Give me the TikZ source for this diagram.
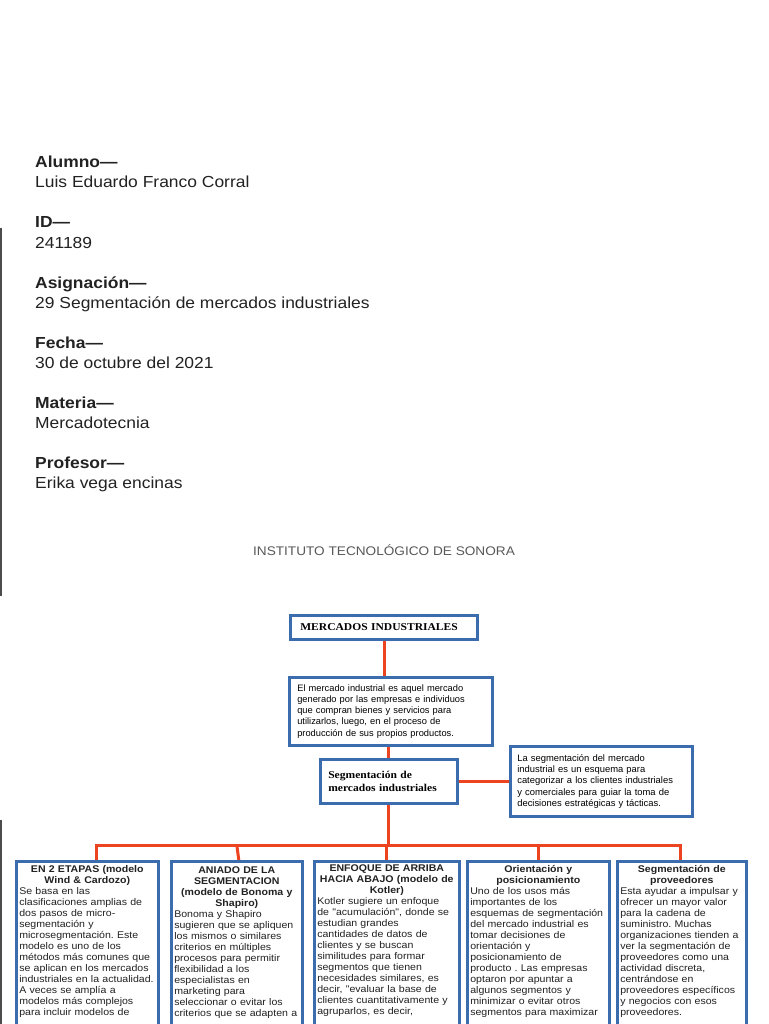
\documentclass[tikz,border=0pt]{standalone}
\usepackage{fontspec}
\setmainfont{Liberation Serif}
\setsansfont{Liberation Sans}
\newfontfamily\widesans{Liberation Sans}[FakeStretch=1.09]
\newfontfamily\wideserif{Liberation Serif}[FakeStretch=1.1]
\usepackage{tikz}
\usetikzlibrary{positioning,calc,shadows}
\definecolor{boxBlue}{HTML}{3B6DAE}
\definecolor{linkRed}{HTML}{EC4420}
\definecolor{inkGray}{HTML}{222222}
\frenchspacing

\tikzset{
  bluebox/.style={draw=boxBlue, line width=2.6pt, fill=white,
    drop shadow={shadow xshift=2pt, shadow yshift=-2pt, opacity=0.25}},
  link/.style={draw=linkRed, line width=3pt},
  headlabel/.style={anchor=base west, inner sep=0pt, font=\widesans\bfseries\fontsize{16}{19}\selectfont, inkGray},
  headvalue/.style={anchor=base west, inner sep=0pt, font=\widesans\fontsize{16}{19}\selectfont, inkGray},
  boxtext/.style={anchor=north, inner sep=0pt, font=\widesans\fontsize{9.7}{11}\selectfont, inkGray}
}

\begin{document}
\begin{tikzpicture}[x=1pt, y=-1pt]
  \useasboundingbox (0,0) rectangle (768,1024);
  \clip (0,0) rectangle (768,1024);
  \fill[white] (0,0) rectangle (768,1024);

  % page margin marks on the left edge
  \draw[black!70, line width=1.2pt] (1,228) -- (1,596);
  \draw[black!70, line width=1.2pt] (1,820) -- (1,1024);

  % student data
  \foreach \lab/\val [count=\i from 0] in {
      Alumno/Luis Eduardo Franco Corral,
      ID/241189,
      Asignación/29 Segmentación de mercados industriales,
      Fecha/30 de octubre del 2021,
      Materia/Mercadotecnia,
      Profesor/Erika vega encinas}{
    \node[headlabel] (lab\i) at (35,168+60*\i) {\lab—};
    \node[headvalue] (val\i) at (35,188+60*\i) {\val};
  }

  \node[font=\widesans\fontsize{12.5}{15}\selectfont, black!65] (instituto) at (384,550)
    {INSTITUTO TECNOLÓGICO DE SONORA};

  % upper chain of boxes
  \node[bluebox, anchor=north west, minimum width=187pt, minimum height=24pt,
        text width=167pt, inner xsep=10pt, align=left,
        font=\wideserif\bfseries\fontsize{10.5}{12}\selectfont] (mercados) at (289,614)
    {MERCADOS INDUSTRIALES};
  \node[bluebox, anchor=north west, minimum width=203pt, minimum height=68pt,
        text width=187pt, inner xsep=8pt, align=left,
        font=\sffamily\fontsize{9.3}{11.25}\selectfont] (definicion) at (288,676)
    {El mercado industrial es aquel mercado\\
     generado por las empresas e individuos\\
     que compran bienes y servicios para\\
     utilizarlos, luego, en el proceso de\\
     producción de sus propios productos.};
  \node[bluebox, anchor=north west, minimum width=137pt, minimum height=44pt,
        text width=121pt, inner xsep=8pt, align=left,
        font=\wideserif\bfseries\fontsize{10.5}{13}\selectfont] (segm) at (319,758)
    {Segmentación de\\ mercados industriales};
  \node[bluebox, anchor=north west, minimum width=182pt, minimum height=70pt,
        text width=168pt, inner xsep=7pt, align=left,
        font=\sffamily\fontsize{9.4}{11.25}\selectfont] (segmdef) at (509,745)
    {La segmentación del mercado\\
     industrial es un esquema para\\
     categorizar a los clientes industriales\\
     y comerciales para guiar la toma de\\
     decisiones estratégicas y tácticas.};

  % lower row of boxes (run past the page edge)
  \node[bluebox, anchor=north west, minimum width=142pt, minimum height=190pt] (etapas) at (15,860) {};
  \node[bluebox, anchor=north west, minimum width=131pt, minimum height=190pt] (aniado) at (170,860) {};
  \node[bluebox, anchor=north west, minimum width=145pt, minimum height=190pt] (enfoque) at (313,860) {};
  \node[bluebox, anchor=north west, minimum width=142pt, minimum height=190pt] (orient) at (466,860) {};
  \node[bluebox, anchor=north west, minimum width=129pt, minimum height=190pt] (provee) at (616,860) {};

  \node[boxtext, text width=136pt] (etapastxt) at ([yshift=-5pt]etapas.north)
    {{\centering\bfseries EN 2 ETAPAS (modelo\\ Wind \& Cardozo)\par}
     \raggedright Se basa en las\\ clasificaciones amplias de\\ dos pasos de micro-\\
     segmentación y\\ microsegmentación. Este\\ modelo es uno de los\\
     métodos más comunes que\\ se aplican en los mercados\\
     industriales en la actualidad.\\ A veces se amplía a\\
     modelos más complejos\\ para incluir modelos de\par};
  \node[boxtext, text width=125pt] (aniadotxt) at ([yshift=-7pt]aniado.north)
    {{\centering\bfseries ANIADO DE LA\\ SEGMENTACION\\ (modelo de Bonoma y\\ Shapiro)\par}
     \raggedright Bonoma y Shapiro\\ sugieren que se apliquen\\ los mismos o similares\\
     criterios en múltiples\\ procesos para permitir\\ flexibilidad a los\\
     especialistas en\\ marketing para\\ seleccionar o evitar los\\
     criterios que se adapten a\par};
  \node[boxtext, text width=139pt] (enfoquetxt) at ([yshift=-5pt]enfoque.north)
    {{\centering\bfseries ENFOQUE DE ARRIBA\\ HACIA ABAJO (modelo de\\ Kotler)\par}
     \raggedright Kotler sugiere un enfoque\\ de "acumulación", donde se\\
     estudian grandes\\ cantidades de datos de\\ clientes y se buscan\\
     similitudes para formar\\ segmentos que tienen\\ necesidades similares, es\\
     decir, "evaluar la base de\\ clientes cuantitativamente y\\
     agruparlos, es decir,\par};
  \node[boxtext, text width=136pt] (orienttxt) at ([yshift=-5pt]orient.north)
    {{\centering\bfseries Orientación y\\ posicionamiento\par}
     \raggedright Uno de los usos más\\ importantes de los\\ esquemas de segmentación\\
     del mercado industrial es\\ tomar decisiones de\\ orientación y\\
     posicionamiento de\\ producto . Las empresas\\ optaron por apuntar a\\
     algunos segmentos y\\ minimizar o evitar otros\\ segmentos para maximizar\par};
  \node[boxtext, text width=123pt] (proveetxt) at ([yshift=-5pt]provee.north)
    {{\centering\bfseries Segmentación de\\ proveedores\par}
     \raggedright Esta ayudar a impulsar y\\ ofrecer un mayor valor\\ para la cadena de\\
     suministro. Muchas\\ organizaciones tienden a\\ ver la segmentación de\\
     proveedores como una\\ actividad discreta,\\ centrándose en\\
     proveedores específicos\\ y negocios con esos\\ proveedores.\par};

  % connectors
  \draw[link] (mercados.south -| 384,0) -- (definicion.north -| 384,0);
  \draw[link] (segm.north |- definicion.south) -- (segm.north);
  \draw[link] (segm.east) -- (segm.east -| segmdef.west);
  \coordinate (barL) at (96,845);
  \coordinate (barR) at (680,845);
  \draw[link] (segm.south) -- (segm.south |- barL);
  \draw[link] ([xshift=-1.5pt]barL) -- ([xshift=1.5pt]barR);
  \draw[link] (barL) -- (barL |- etapas.north);
  \draw[link] (aniado.north |- barL) -- ([xshift=2pt]aniado.north);
  \draw[link] (enfoque.north |- barL) -- (enfoque.north);
  \draw[link] (orient.north |- barL) -- (orient.north);
  \draw[link] (barR) -- (barR |- provee.north);
\end{tikzpicture}
\end{document}
